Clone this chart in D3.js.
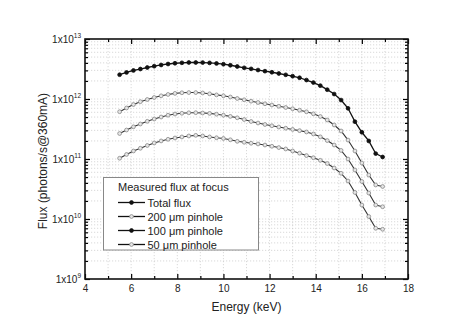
<!DOCTYPE html>
<html><head><meta charset="utf-8">
<script src="https://cdn.jsdelivr.net/npm/d3@7"></script>
<style>
body{margin:0;background:#fff;}
svg{display:block;font-family:"Liberation Sans",Arial,sans-serif;}
</style></head>
<body><svg id="c" width="474" height="335"></svg>
<script>
const energy = [5.5,5.8,6.1,6.4,6.7,7.0,7.3,7.6,7.9,8.2,8.5,8.8,9.1,9.4,9.7,10.0,10.3,10.6,10.9,11.2,11.5,11.8,12.1,12.4,12.7,13.0,13.3,13.6,13.9,14.2,14.5,14.8,15.1,15.4,15.7,16.0,16.3,16.6,16.9];
const totalFlux = [2.54e12,2.77e12,2.99e12,3.16e12,3.35e12,3.52e12,3.69e12,3.83e12,3.94e12,4.01e12,4.06e12,4.06e12,4.05e12,4.00e12,3.91e12,3.80e12,3.65e12,3.48e12,3.31e12,3.18e12,3.04e12,2.91e12,2.79e12,2.66e12,2.53e12,2.40e12,2.26e12,2.07e12,1.88e12,1.67e12,1.43e12,1.21e12,9.6e11,7.0e11,4.19e11,2.79e11,2.0e11,1.23e11,1.08e11];
const pinhole200 = [6.14e11,7.08e11,8.09e11,9.02e11,9.81e11,1.06e12,1.13e12,1.19e12,1.24e12,1.27e12,1.28e12,1.28e12,1.26e12,1.22e12,1.17e12,1.13e12,1.08e12,1.02e12,9.70e11,9.19e11,8.74e11,8.32e11,7.94e11,7.56e11,7.22e11,6.87e11,6.50e11,6.12e11,5.66e11,5.11e11,4.47e11,3.69e11,2.93e11,2.07e11,1.36e11,8.58e10,5.41e10,3.69e10,3.48e10];
const pinhole100 = [2.66e11,3.04e11,3.44e11,3.83e11,4.25e11,4.64e11,5.01e11,5.37e11,5.62e11,5.78e11,5.89e11,5.91e11,5.84e11,5.75e11,5.58e11,5.37e11,5.13e11,4.86e11,4.55e11,4.22e11,3.98e11,3.76e11,3.58e11,3.41e11,3.26e11,3.11e11,2.97e11,2.82e11,2.61e11,2.34e11,2.03e11,1.71e11,1.39e11,1.0e11,6.56e10,4.22e10,2.71e10,1.71e10,1.60e10];
const pinhole50 = [1.03e11,1.19e11,1.36e11,1.51e11,1.68e11,1.85e11,2.0e11,2.13e11,2.24e11,2.33e11,2.42e11,2.48e11,2.42e11,2.33e11,2.26e11,2.20e11,2.09e11,1.97e11,1.90e11,1.83e11,1.78e11,1.71e11,1.63e11,1.55e11,1.47e11,1.36e11,1.25e11,1.14e11,1.05e11,9.51e10,8.41e10,7.08e10,5.78e10,4.30e10,2.77e10,1.71e10,1.10e10,7.0e9,6.74e9];
const seriesNames = ["Total flux","200 \u03bcm pinhole","100 \u03bcm pinhole","50 \u03bcm pinhole"];
const legendTitle = "Measured flux at focus";
const xMajorTicks = [4,6,8,10,12,14,16,18];
const xMinorTicks = [5,7,9,11,13,15,17];
const yDecades = [1e9,1e10,1e11,1e12,1e13];
const yExponents = ["9","10","11","12","13"];
const xTitle = "Energy (keV)";
const yTitle = "Flux (photons/s@360mA)";

const L=85,R=408,T=39,B=279;
const svg = d3.select("#c");
const x = d3.scaleLinear().domain([4,18]).range([L,R]);
const y = d3.scaleLog().domain([1e9,1e13]).range([B,T]);

const yMinor = [];
yDecades.slice(0,-1).forEach(d=>{for(let k=2;k<=9;k++) yMinor.push(d*k);});

// grid
const grid = svg.append("g").attr("stroke","#c8c8c8").attr("stroke-width",0.7).attr("stroke-dasharray","1.2,1.8");
grid.selectAll("line.v").data(xMajorTicks.concat(xMinorTicks).filter(v=>v>4&&v<18)).join("line")
  .attr("x1",d=>x(d)).attr("x2",d=>x(d)).attr("y1",T).attr("y2",B);
grid.selectAll("line.h").data(yMinor.concat(yDecades.slice(1,-1))).join("line")
  .attr("x1",L).attr("x2",R).attr("y1",d=>y(d)).attr("y2",d=>y(d));

// axes
function styleAxis(g){g.select(".domain").remove();g.selectAll(".tick line").attr("stroke","#000").attr("stroke-width",1.2);}
svg.append("g").attr("transform",`translate(0,${B})`)
  .call(d3.axisBottom(x).tickValues(xMajorTicks).tickSize(-5).tickPadding(6).tickFormat(d3.format("d")))
  .call(styleAxis).call(g=>g.selectAll("text").attr("font-size",10).attr("fill","#222").attr("font-family","Liberation Sans, Arial"));
svg.append("g").attr("transform",`translate(0,${B})`)
  .call(d3.axisBottom(x).tickValues(xMinorTicks).tickSize(-3).tickFormat("")).call(styleAxis);
svg.append("g").attr("transform",`translate(0,${T})`)
  .call(d3.axisTop(x).tickValues(xMajorTicks).tickSize(-5).tickFormat("")).call(styleAxis);
svg.append("g").attr("transform",`translate(0,${T})`)
  .call(d3.axisTop(x).tickValues(xMinorTicks).tickSize(-3).tickFormat("")).call(styleAxis);

svg.append("g").attr("transform",`translate(${L},0)`)
  .call(d3.axisLeft(y).tickValues(yDecades).tickSize(-5).tickPadding(4).tickFormat(""))
  .call(styleAxis)
  .call(g=>{
    g.selectAll(".tick text").each(function(d,i){
      const t=d3.select(this).attr("font-size",10).attr("fill","#222").attr("font-family","Liberation Sans, Arial").attr("x",-4).attr("dy","0.35em");
      t.append("tspan").text("1x10");
      t.append("tspan").attr("font-size",6.5).attr("dy","-0.75em").text(yExponents[i]);
    });
  });
svg.append("g").attr("transform",`translate(${L},0)`)
  .call(d3.axisLeft(y).tickValues(yMinor).tickSize(-3).tickFormat("")).call(styleAxis);
svg.append("g").attr("transform",`translate(${R},0)`)
  .call(d3.axisRight(y).tickValues(yDecades).tickSize(-5).tickFormat("")).call(styleAxis);
svg.append("g").attr("transform",`translate(${R},0)`)
  .call(d3.axisRight(y).tickValues(yMinor).tickSize(-3).tickFormat("")).call(styleAxis);

svg.append("rect").attr("x",L).attr("y",T).attr("width",R-L).attr("height",B-T)
  .attr("fill","none").attr("stroke","#111").attr("stroke-width",1.6);

// series
const line = d3.line().x(d=>x(d[0])).y(d=>y(d[1]));
const series = [
  {vals:totalFlux, lc:"#111", lw:1.3, mf:"#111", ms:"#111", r:1.9},
  {vals:pinhole200, lc:"#333", lw:1.1, mf:"#e6e6e6", ms:"#888", r:1.9},
  {vals:pinhole100, lc:"#333", lw:1.1, mf:"#e6e6e6", ms:"#888", r:1.9},
  {vals:pinhole50, lc:"#333", lw:1.1, mf:"#e6e6e6", ms:"#888", r:1.9}
];
series.forEach(s=>{
  const pts = energy.map((e,i)=>[e,s.vals[i]]);
  svg.append("path").datum(pts).attr("d",line).attr("fill","none").attr("stroke",s.lc).attr("stroke-width",s.lw);
  svg.append("g").selectAll("circle").data(pts).join("circle")
    .attr("cx",d=>x(d[0])).attr("cy",d=>y(d[1])).attr("r",s.r)
    .attr("fill",s.mf).attr("stroke",s.ms).attr("stroke-width",0.8);
});

// legend
const lg = svg.append("g");
lg.append("rect").attr("x",103.5).attr("y",177.5).attr("width",155).attr("height",72.5)
  .attr("fill","#fff").attr("stroke","#888").attr("stroke-width",1);
lg.append("text").attr("x",118).attr("y",190.5).attr("font-size",11).attr("fill","#222").text(legendTitle);
const legMark = [{f:"#111",s:"#111"},{f:"#e6e6e6",s:"#888"},{f:"#111",s:"#111"},{f:"#e6e6e6",s:"#888"}];
seriesNames.forEach((n,i)=>{
  const cy = 202.5 + i*14;
  lg.append("line").attr("x1",118).attr("x2",145).attr("y1",cy).attr("y2",cy).attr("stroke","#111").attr("stroke-width",1.3);
  lg.append("circle").attr("cx",131.5).attr("cy",cy).attr("r",1.9).attr("fill",legMark[i].f).attr("stroke",legMark[i].s).attr("stroke-width",0.8);
  lg.append("text").attr("x",147.5).attr("y",cy+4).attr("font-size",11).attr("fill","#222").text(n);
});

// titles
svg.append("text").attr("x",(L+R)/2).attr("y",311).attr("text-anchor","middle").attr("font-size",12).attr("fill","#222").text(xTitle);
svg.append("text").attr("transform",`translate(47,${(T+B)/2+2}) rotate(-90)`).attr("text-anchor","middle").attr("font-size",12).attr("fill","#222").text(yTitle);
</script></body></html>
